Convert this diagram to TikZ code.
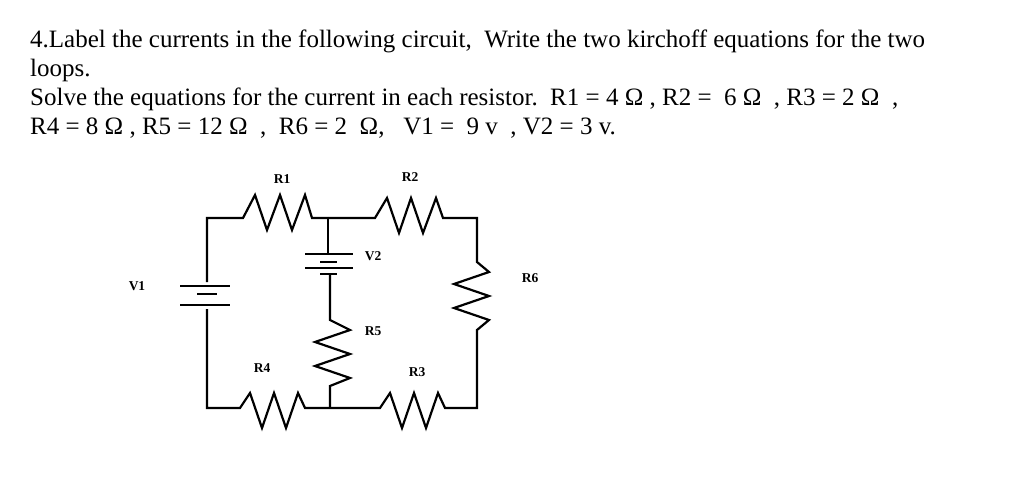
\documentclass[tikz,border=0pt]{standalone}
\usepackage{fontspec}
\setmainfont{Liberation Serif}
\begin{document}
\begin{tikzpicture}[x=1pt,y=-1pt,
  txt/.style={anchor=base west,inner sep=0,font=\fontsize{25}{28}\selectfont},
  lbl/.style={inner sep=0,font=\fontsize{13.5}{15}\selectfont\bfseries},
  w/.style={line width=2.2pt,line join=miter}]
\useasboundingbox (0,0) rectangle (1024,481);
\node[txt] (t1) at (30,48) {4.Label the currents in the following circuit,\ \ Write the two kirchoff equations for the two};
\node[txt] (t2) at (30,77) {loops.};
\node[txt] (t3) at (30,106) {Solve the equations for the current in each resistor.\ \ R1 = 4 Ω , R2 =\ \ 6 Ω\ \ , R3 = 2 Ω\ \ ,};
\node[txt] (t4) at (30,135) {R4 = 8 Ω , R5 = 12 Ω\ \ ,\ \ R6 = 2\ \ Ω,\ \ \ V1 =\ \ 9 v\ \ , V2 = 3 v.};
% coordinates
\coordinate (tl) at (207,218);
\coordinate (tm) at (328,218);
\coordinate (tr) at (477,218);
\coordinate (bl) at (207,408);
\coordinate (bm) at (330,408);
\coordinate (br) at (477,408);
% top left wire and R1
\draw[w] (207,282) -- (tl) -- (243,218) -- ++(12,-23) -- ++(12,35) -- ++(13,-35) -- ++(12,35) -- ++(13,-35) -- ++(7,23) -- (tm);
% R2 .. loop
\draw[w] (tm) -- (375,218) -- ++(12,-20) -- ++(12,35) -- ++(12,-35) -- ++(12,35) -- ++(13,-35) -- ++(7,20) -- (tr) -- (477,262)
  -- ++(12,10) -- ++(-35,12) -- ++(35,12) -- ++(-35,12) -- ++(35,12) -- ++(-12,10) -- (br) -- (445,408)
  -- ++(-7,-15) -- ++(-12,35) -- ++(-12,-35) -- ++(-12,35) -- ++(-12,-35) -- ++(-10,15) -- (bm) -- (305,408)
  -- ++(-7,-15) -- ++(-12,35) -- ++(-12,-35) -- ++(-12,35) -- ++(-12,-35) -- ++(-10,15) -- (bl) -- (207,309);
% V1
\draw[w] (180,286) -- (230,286);
\draw[w] (197,294) -- (217,294);
\draw[w] (180,305) -- (230,305);
% V2
\draw[w] (tm) -- (328,254);
\draw[w] (305,254) -- (353,254);
\draw[w] (320,262) -- (337,262);
\draw[w] (305,268) -- (353,268);
\draw[w] (320,274) -- (337,274);
% R5
\draw[w] (330,274) -- (330,320) -- ++(20,10) -- ++(-35,12) -- ++(35,12) -- ++(-35,12) -- ++(35,12) -- ++(-20,8) -- (bm);
% labels
\node[lbl] (lR1) at (282,179) {R1};
\node[lbl] (lR2) at (410,177) {R2};
\node[lbl] (lV2) at (373,256) {V2};
\node[lbl] (lR6) at (530,278) {R6};
\node[lbl] (lV1) at (137,286) {V1};
\node[lbl] (lR5) at (373,331) {R5};
\node[lbl] (lR4) at (262,368) {R4};
\node[lbl] (lR3) at (417,372) {R3};
\end{tikzpicture}
\end{document}
